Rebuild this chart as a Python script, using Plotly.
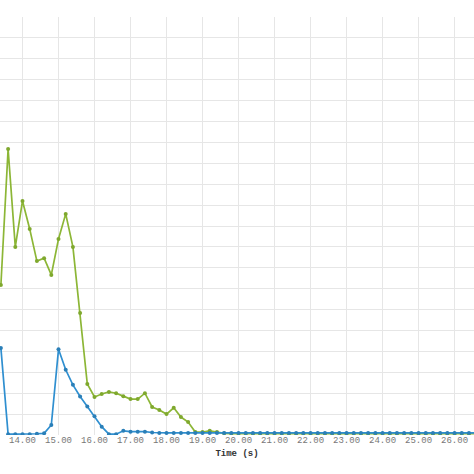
import plotly.graph_objects as go

times = [round(13.4 + 0.2 * i, 1) for i in range(67)]

green = [35.9, 68.4, 45.0, 56.0, 49.3, 41.6, 42.3, 38.3, 46.9, 52.9, 45.0, 29.2,
         12.2, 9.1, 9.8, 10.3, 10.0, 9.3, 8.6, 8.6, 10.0, 6.7, 6.0, 5.0, 6.5, 4.3,
         3.1, 0.7, 0.7, 1.0, 0.7, 0.4]
green = green + [0.3] * (len(times) - len(green))

blue = [20.8, 0.2, 0.2, 0.2, 0.2, 0.3, 0.4, 2.4, 20.5, 15.6, 12.0, 9.2, 6.8, 4.5,
        2.0, 0.2, 0.2, 1.0, 0.8, 0.8, 0.8, 0.6]
blue = blue + [0.5] * (len(times) - len(blue))

tick_vals = list(range(14, 27))
tick_text = ["%.2f" % v for v in tick_vals]

fig = go.Figure()
fig.add_trace(go.Scatter(x=times, y=green, mode="lines+markers",
                         line=dict(color="#8cb636", width=1.7),
                         marker=dict(color="#7fa82e", size=4)))
fig.add_trace(go.Scatter(x=times, y=blue, mode="lines+markers",
                         line=dict(color="#2f8fd0", width=1.7),
                         marker=dict(color="#2a7fb8", size=4)))

fig.update_layout(
    width=474, height=474,
    margin=dict(l=0, r=0, t=17, b=39, pad=0),
    paper_bgcolor="white", plot_bgcolor="white",
    showlegend=False,
    xaxis=dict(range=[13.375, 26.54], tickvals=tick_vals, ticktext=tick_text,
               automargin=False,
               showgrid=True, gridcolor="#e6e6e6", gridwidth=1.2,
               zeroline=False, showline=False, ticks="",
               ticklabelstandoff=-2,
               tickfont=dict(family="Liberation Mono", size=9, color="#777"),
               title=dict(text="<b>Time (s)</b>",
                          font=dict(family="Liberation Mono", size=9, color="#333"),
                          standoff=4)),
    yaxis=dict(range=[0, 100], dtick=5, showgrid=True, gridcolor="#e6e6e6",
               gridwidth=1.2, zeroline=False, showticklabels=False, showline=False,
               automargin=False, ticks=""),
)

fig.write_html("out.html", config={"displayModeBar": False},
               post_script="document.body.style.margin='0';")
